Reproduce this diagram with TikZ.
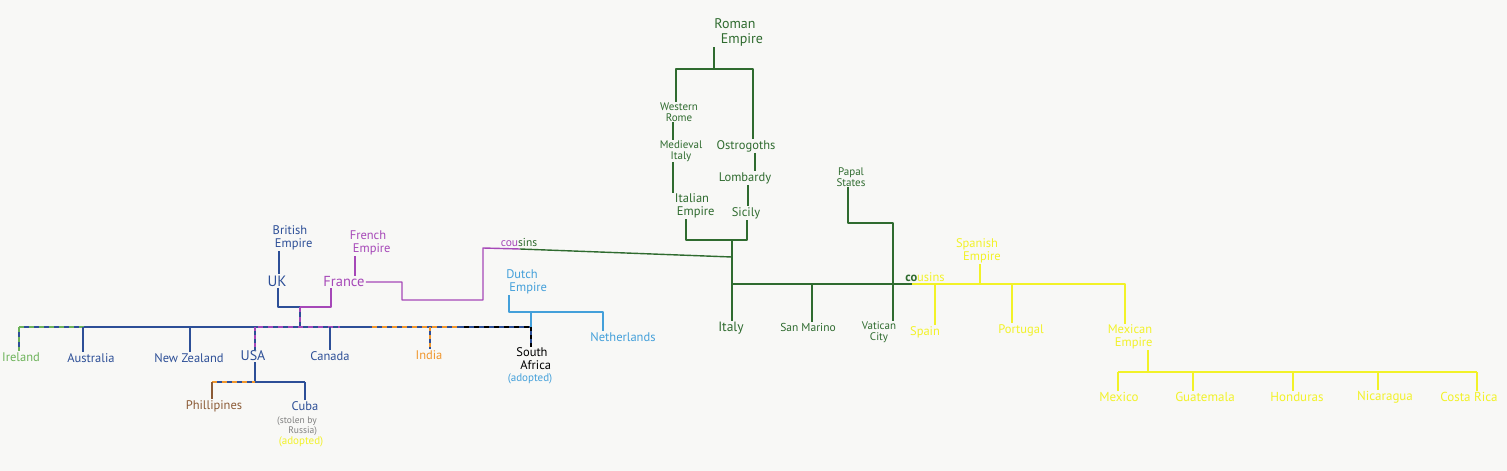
\documentclass[tikz,border=0pt]{standalone}
\usepackage{fontspec}
\setmainfont{PT Sans}
\definecolor{dg}{HTML}{2F6B2F}
\definecolor{bl}{HTML}{2D4F97}
\definecolor{pu}{HTML}{A648B8}
\definecolor{lb}{HTML}{44A0DA}
\definecolor{orn}{HTML}{F0962C}
\definecolor{ye}{HTML}{F2F228}
\definecolor{brn}{HTML}{8B5A35}
\definecolor{gy}{HTML}{808080}
\definecolor{lg}{HTML}{6DB35A}
\definecolor{paper}{HTML}{F8F8F6}
\begin{document}
\begin{tikzpicture}[x=1pt,y=-1pt,
  t/.style={font=\fontsize{12.5}{13}\selectfont, inner sep=1pt, align=center},
  ts/.style={font=\fontsize{11}{10.5}\selectfont, inner sep=1pt, align=center},
  tm/.style={font=\fontsize{11.5}{12}\selectfont, inner sep=1pt, align=center},
  tb/.style={font=\fontsize{13}{13}\selectfont, inner sep=1pt, align=center},
  ln/.style={line width=1.4pt, line join=round},
  dsh/.style={line width=1.4pt, dash pattern=on 5pt off 5pt}]
\fill[paper] (0,0) rectangle (1507,471);
\useasboundingbox (0,0) rectangle (1507,471);

% ---------- green (Roman) ----------
\node[t,dg,font=\fontsize{14}{15}\selectfont] (roman) at (735,32) {Roman\\\hspace*{1em}Empire};
\node[ts,dg] (western) at (679,112) {Western\\Rome};
\node[ts,dg] (medieval) at (681,151) {Medieval\\Italy};
\node[t,dg] (italianemp) at (692,206) {Italian\\\hspace*{0.6em}Empire};
\node[t,dg] (ostro) at (746,146) {Ostrogoths};
\node[t,dg] (lombardy) at (745,178) {Lombardy};
\node[t,dg] (sicily) at (746,213) {Sicily};
\node[ts,dg] (papal) at (851,177) {Papal\\States};
\node[t,dg,font=\fontsize{13.5}{14}\selectfont] (italy) at (731,328) {Italy};
\node[tm,dg] (sanmarino) at (808,327) {San Marino};
\node[ts,dg] (vatican) at (879,332) {Vatican\\City};

\coordinate (r0) at (714,69); \coordinate (r1) at (676,69); \coordinate (r2) at (753,69);
\draw[ln,dg] (roman.south -| r0) -- (r0);
\draw[ln,dg] (western.north -| r1) -- (r1) -- (r2) -- (ostro.north -| r2);
\coordinate (m0) at (673,0);
\draw[ln,dg] (western.south -| m0) -- (medieval.north -| m0);
\draw[ln,dg] (medieval.south -| m0) -- (italianemp.north -| m0);
\coordinate (o0) at (755,0); \coordinate (o1) at (748,0);
\draw[ln,dg] (ostro.south -| o0) -- (lombardy.north -| o0);
\draw[ln,dg] (lombardy.south -| o1) -- (sicily.north -| o1);
\coordinate (s0) at (686,240); \coordinate (s1) at (747,240); \coordinate (s2) at (732,240);
\draw[ln,dg] (italianemp.south -| s0) -- (s0) -- (s1) -- (sicily.south -| s1);
\draw[ln,dg] (s2) -- (italy.north -| s2);
\coordinate (c2) at (732,257);
\coordinate (g0) at (732,284); \coordinate (g1) at (912,284);
\draw[ln,dg] (g0) -- (g1);
\coordinate (sm) at (812,284);
\draw[ln,dg] (sm) -- (sanmarino.north -| sm);
\coordinate (p0) at (848,223); \coordinate (p1) at (893,223);
\draw[ln,dg] (papal.south -| p0) -- (p0) -- (p1) -- (vatican.north -| p1);

% ---------- cousins ----------
\node[tm] (cous1) at (519,242) {\textcolor{pu}{cou}\textcolor{dg}{sins}};
\node[t] (cous2) at (925,277) {\textcolor{dg}{\bfseries co}\textcolor{ye}{usins}};

% ---------- yellow (Spanish) ----------
\node[t,ye] (spanish) at (977,251) {Spanish\\\hspace*{0.8em}Empire};
\node[t,ye] (spain) at (925,332) {Spain};
\node[t,ye] (portugal) at (1021,330) {Portugal};
\node[t,ye] (mexican) at (1130,337) {Mexican\\\hspace*{0.6em}Empire};
\node[tb,ye] (mexico) at (1119,397) {Mexico};
\node[tb,ye] (guatemala) at (1205,397) {Guatemala};
\node[tb,ye] (honduras) at (1297,397) {Honduras};
\node[tb,ye] (nicaragua) at (1385,397) {Nicaragua};
\node[tb,ye] (costarica) at (1469,397) {Costa Rica};

\coordinate (y0) at (912,284); \coordinate (y1) at (1125,284);
\draw[ln,ye] (y0) -- (y1) -- (mexican.north -| y1);
\coordinate (sp) at (980,284);
\draw[ln,ye] (spanish.south -| sp) -- (sp);
\coordinate (spn) at (935,284); \coordinate (ptg) at (1012,284);
\draw[ln,ye] (spn) -- (spain.north -| spn);
\draw[ln,ye] (ptg) -- (portugal.north -| ptg);
\coordinate (mx0) at (1148,372); \coordinate (mx1) at (1118,372); \coordinate (mx5) at (1477,372);
\coordinate (mx2) at (1193,372); \coordinate (mx3) at (1293,372); \coordinate (mx4) at (1378,372);
\draw[ln,ye] (mexican.south -| mx0) -- (mx0);
\draw[ln,ye] (mx1) -- (mx5);
\draw[ln,ye] (mx1) -- (mexico.north -| mx1);
\draw[ln,ye] (mx2) -- (guatemala.north -| mx2);
\draw[ln,ye] (mx3) -- (honduras.north -| mx3);
\draw[ln,ye] (mx4) -- (nicaragua.north -| mx4);
\draw[ln,ye] (mx5) -- (costarica.north -| mx5);

% ---------- British / French ----------
\node[t,bl] (british) at (290,238) {British\\\hspace*{0.6em}Empire};
\node[t,bl,font=\fontsize{15}{15}\selectfont] (uk) at (277,281) {UK};
\node[t,pu] (frenchemp) at (368,243) {French\\\hspace*{0.6em}Empire};
\node[t,pu,font=\fontsize{14.5}{15}\selectfont] (france) at (344,282) {France};

\coordinate (u0) at (278,307); \coordinate (u1) at (300,307); \coordinate (u2) at (331,307); \coordinate (u3) at (300,327);
\coordinate (bx) at (279,0); \coordinate (fe) at (355,0);
\draw[ln,bl] (british.south -| bx) -- (uk.north -| bx);
\draw[ln,pu] (frenchemp.south -| fe) -- (france.north -| fe);
\draw[ln,bl] (uk.south -| u0) -- (u0) -- (u1);
\draw[ln,pu] (u1) -- (u2) -- (france.south -| u2);
\draw[ln,bl] (u1) -- (u3);
\draw[dsh,pu] (u1) -- (u3);

\coordinate (f1) at (402,282); \coordinate (f2) at (402,300); \coordinate (f3) at (483,300);
\coordinate (f4) at (483,248); \coordinate (f5) at (520,249);
\draw[ln,pu] (france.east) -- (f1) -- (f2) -- (f3) -- (f4) -- (f5);
\draw[ln,dg] (f5) -- (c2);

% children of British empire
\node[t,lg] (ireland) at (21,357) {Ireland};
\node[t,bl] (australia) at (91,358) {Australia};
\node[t,bl] (newzealand) at (189,358) {New Zealand};
\node[t,bl,font=\fontsize{14}{14}\selectfont] (usa) at (253,356) {USA};
\node[t,bl] (canada) at (330,356) {Canada};
\node[t,orn] (india) at (429,355) {India};
\node[t,black] (southafrica) at (532,359) {South\\\hspace*{0.6em}Africa};
\node[ts,lb,font=\fontsize{11}{11}\selectfont] (adopted1) at (530,379) {(adopted)};
\node[t,brn] (phil) at (214,406) {Phillipines};
\node[t,bl] (cuba) at (305,406) {Cuba};
\node[ts,gy,font=\fontsize{9.5}{10.5}\selectfont] (stolen) at (297,426) {(stolen by\\\hspace*{1.2em}Russia)};
\node[ts,ye,font=\fontsize{11}{11}\selectfont] (adopted2) at (301,442) {(adopted)};

\coordinate (b0) at (19,327); \coordinate (b1) at (531,327);
\coordinate (k1) at (83,327); \coordinate (k2) at (190,327); \coordinate (k3) at (255,327);
\coordinate (k4) at (330,327); \coordinate (k5) at (430,327);
\draw[ln,bl] (b0) -- (b1);
\draw[dsh,lg] (b0) -- (85,327);
\draw[dsh,pu] (258,327) -- (340,327);
\draw[dsh,orn] (372,327) -- (460,327);
\draw[dsh,black] (464,327) -- (b1);
\draw[ln,bl] (b0) -- (ireland.north -| b0);
\draw[dsh,lg] (b0) -- (ireland.north -| b0);
\draw[ln,bl] (k1) -- (australia.north -| k1);
\draw[ln,bl] (k2) -- (newzealand.north -| k2);
\draw[ln,bl] (k3) -- (usa.north -| k3);
\draw[dsh,pu,dash pattern=on 4pt off 4pt] (k3) -- (usa.north -| k3);
\draw[ln,bl] (k4) -- (canada.north -| k4);
\draw[ln,bl] (k5) -- (india.north -| k5);
\draw[dsh,orn,dash pattern=on 4pt off 4pt] (k5) -- (india.north -| k5);
\draw[ln,bl] (b1) -- (southafrica.north -| b1);
\draw[dsh,black,dash pattern=on 4pt off 4pt] (b1) -- (southafrica.north -| b1);

\coordinate (us1) at (255,382); \coordinate (ph) at (212,382); \coordinate (cu) at (305,382);
\draw[ln,bl] (usa.south -| us1) -- (us1);
\draw[ln,bl] (ph) -- (cu);
\draw[dsh,orn] (ph) -- (us1);
\draw[ln,brn] (ph) -- (phil.north -| ph);
\draw[ln,bl] (cu) -- (cuba.north -| cu);

% ---------- Dutch ----------
\node[t,lb] (dutch) at (522,282) {Dutch\\\hspace*{1em}Empire};
\node[t,lb] (netherlands) at (623,337) {Netherlands};
\coordinate (d0) at (509,312); \coordinate (d1) at (603,312); \coordinate (d2) at (531,312);
\draw[ln,lb] (dutch.south -| d0) -- (d0) -- (d1) -- (netherlands.north -| d1);
\draw[ln,lb] (d2) -- (b1);
\end{tikzpicture}
\end{document}
